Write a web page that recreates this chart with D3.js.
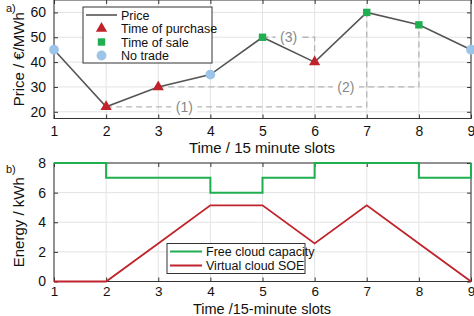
<!DOCTYPE html>
<html>
<head>
<meta charset="utf-8">
<script src="https://cdn.jsdelivr.net/npm/d3@7"></script>
<style>
  body { margin: 0; background: #fff; }
  svg { display: block; font-family: "Liberation Sans", Arial, sans-serif; }
</style>
</head>
<body>
<svg id="chart" width="474" height="316"></svg>
<script>
// Time slots shared by both panels
const slots = [1, 2, 3, 4, 5, 6, 7, 8, 9];
// Panel a) price per slot and marker type
const price = [45, 22, 30, 35, 50, 40, 60, 55, 45];
const trade = ['none', 'buy', 'buy', 'none', 'sell', 'buy', 'sell', 'sell', 'none'];
const priceTicks = [20, 30, 40, 50, 60];
// Buy/sell pairs: [buy slot, sell slot, label slot position]
const pairs = [
    { buy: 2, sell: 7, label: '(1)', at: 3.5 },
    { buy: 3, sell: 8, label: '(2)', at: 6.6 },
    { buy: 6, sell: 5, label: '(3)', at: 5.5 },
];
// Panel b) energies per slot
const freeCapacity = [8, 7, 7, 6, 7, 8, 8, 7, 8];
const virtualSoe = [0, 0, 2.57, 5.14, 5.14, 2.57, 5.14, 2.57, 0];
const energyTicks = [0, 2, 4, 6, 8];

const svg = d3.select('#chart');
const left = 54, right = 471;
const green = '#1fae50', red = '#c0232b', blue = '#9cc3e8', grey = '#555';

const x = d3.scaleLinear().domain([1, 9]).range([left, right]);
const yA = d3.scaleLinear().domain([17.3, 65]).range([118.5, 0]);
const yB = d3.scaleLinear().domain([0, 8]).range([281.5, 163]);

// Draw frame, grid, ticks and labels for one panel.
const drawFrame = (y, ticks, top, bottom, opt) => {
    const g = svg.append('g');
    // grid
    g.selectAll('.gx').data(slots).enter().append('line')
        .attr('x1', (d) => x(d)).attr('x2', (d) => x(d))
        .attr('y1', top).attr('y2', bottom)
        .attr('stroke', '#e3e3e3').attr('stroke-width', 1);
    g.selectAll('.gy').data(ticks).enter().append('line')
        .attr('x1', left).attr('x2', right)
        .attr('y1', (d) => y(d)).attr('y2', (d) => y(d))
        .attr('stroke', '#e3e3e3').attr('stroke-width', 1);

    // axes with inward ticks on all four sides
    const axes = svg.append('g').attr('class', 'axes');
    const xb = axes.append('g').attr('transform', `translate(0,${bottom})`)
        .call(d3.axisBottom(x).tickValues(slots).tickSizeInner(-4).tickSizeOuter(0).tickPadding(opt.pad));
    axes.append('g').attr('transform', `translate(0,${top})`)
        .call(d3.axisTop(x).tickValues(slots).tickSizeInner(-4).tickSizeOuter(0).tickFormat(''));
    axes.append('g').attr('transform', `translate(${left},0)`)
        .call(d3.axisLeft(y).tickValues(ticks).tickSizeInner(-4).tickSizeOuter(0).tickPadding(8));
    axes.append('g').attr('transform', `translate(${right},0)`)
        .call(d3.axisRight(y).tickValues(ticks).tickSizeInner(-4).tickSizeOuter(0).tickFormat(''));
    axes.selectAll('.domain').remove();
    axes.selectAll('.tick line').attr('stroke', '#333');
    axes.selectAll('.tick text').attr('font-size', '14px').attr('fill', '#111')
        .attr('font-family', '"Liberation Sans", Arial, sans-serif');
    xb.selectAll('.tick text').attr('font-size', opt.tickSize);

    svg.append('rect').attr('x', left).attr('y', top)
        .attr('width', right - left).attr('height', bottom - top)
        .attr('fill', 'none').attr('stroke', '#333').attr('stroke-width', 1);

    svg.append('text').attr('x', 262).attr('y', opt.titleY)
        .attr('text-anchor', 'middle').attr('font-size', opt.titleSize).attr('fill', '#111').text(opt.xTitle);
    svg.append('text')
        .attr('transform', `translate(24,${(top + bottom) / 2}) rotate(-90)`)
        .attr('text-anchor', 'middle').attr('font-size', '15px').attr('fill', '#111').text(opt.yTitle);
    svg.append('text').attr('x', 6).attr('y', opt.tagY)
        .attr('font-size', '11px').attr('fill', '#111').text(opt.tag);
};

drawFrame(yA, priceTicks, 0, 118.5, {
    xTitle: 'Time / 15 minute slots', titleY: 152.5, titleSize: '15px', pad: 8, tickSize: '14px',
    yTitle: 'Price / €/MWh', tag: 'a)', tagY: 12,
});
drawFrame(yB, energyTicks, 163, 281.5, {
    xTitle: 'Time /15-minute slots', titleY: 313.5, titleSize: '14.5px', pad: 5, tickSize: '13.5px',
    yTitle: 'Energy / kWh', tag: 'b)', tagY: 173,
});

// ---- Panel a) ----
const pa = svg.append('g');
const priceAt = (s) => price[slots.indexOf(s)];

// dashed trade connections
pairs.forEach((p) => {
    const yb = yA(priceAt(p.buy)), ys = yA(priceAt(p.sell));
    let d = `M${x(p.buy)},${yb}H${x(p.sell)}V${ys}`;
    let lineY = yb;
    if (p.buy > p.sell) {
        // horizontal at sell level, vertical at buy slot
        d = `M${x(p.sell)},${ys}H${x(p.buy)}V${yb}`;
        lineY = ys;
    }
    pa.append('path').attr('d', d).attr('fill', 'none')
        .attr('stroke', '#b5b5b5').attr('stroke-width', 1.3).attr('stroke-dasharray', '6,4');
    pa.append('rect').attr('x', x(p.at) - 13).attr('y', lineY - 8).attr('width', 26).attr('height', 16)
        .attr('fill', '#fff');
    pa.append('text').attr('x', x(p.at)).attr('y', lineY + 5).attr('text-anchor', 'middle')
        .attr('font-size', '14px').attr('fill', '#888').text(p.label);
});

const priceLine = d3.line().x((d, i) => x(slots[i])).y((d) => yA(d));
pa.append('path').datum(price).attr('d', priceLine)
    .attr('fill', 'none').attr('stroke', grey).attr('stroke-width', 1.6);

const sym = { none: d3.symbolCircle, buy: d3.symbolTriangle, sell: d3.symbolSquare };
const symSize = { none: 75, buy: 55, sell: 55 };
const symCol = { none: blue, buy: red, sell: green };
pa.selectAll('.m').data(price).enter().append('path')
    .attr('transform', (d, i) => `translate(${x(slots[i])},${yA(d)})`)
    .attr('d', (d, i) => d3.symbol().type(sym[trade[i]]).size(symSize[trade[i]])())
    .attr('fill', (d, i) => symCol[trade[i]]);

// legend a)
const la = svg.append('g').attr('transform', 'translate(83,7)');
la.append('rect').attr('width', 129).attr('height', 56).attr('fill', '#fff')
    .attr('stroke', '#333').attr('stroke-width', 1);
const legA = [
    { t: 'Price', k: 'line' },
    { t: 'Time of purchase', k: 'buy' },
    { t: 'Time of sale', k: 'sell' },
    { t: 'No trade', k: 'none' },
];
legA.forEach((e, i) => {
    const yy = 8 + i * 13.5;
    if (e.k === 'line') {
        la.append('line').attr('x1', 3).attr('x2', 34).attr('y1', yy).attr('y2', yy)
            .attr('stroke', grey).attr('stroke-width', 1.6);
    } else {
        la.append('path').attr('transform', `translate(18.5,${yy})`)
            .attr('d', d3.symbol().type(sym[e.k]).size(symSize[e.k])())
            .attr('fill', symCol[e.k]);
    }
    la.append('text').attr('x', 38).attr('y', yy + 4.5).attr('font-size', '12.5px')
        .attr('fill', '#111').text(e.t);
});

// ---- Panel b) ----
const pb = svg.append('g');
const capLine = d3.line().x((d, i) => x(slots[i])).y((d) => yB(d)).curve(d3.curveStepAfter);
pb.append('path').datum(freeCapacity).attr('d', capLine)
    .attr('fill', 'none').attr('stroke', green).attr('stroke-width', 2);
const soeLine = d3.line().x((d, i) => x(slots[i])).y((d) => yB(d));
pb.append('path').datum(virtualSoe).attr('d', soeLine)
    .attr('fill', 'none').attr('stroke', red).attr('stroke-width', 1.8);

// legend b)
const lb = svg.append('g').attr('transform', 'translate(167,243.5)');
lb.append('rect').attr('width', 138).attr('height', 30).attr('fill', '#fff')
    .attr('stroke', '#333').attr('stroke-width', 1);
[{ t: 'Free cloud capacity', c: green }, { t: 'Virtual cloud SOE', c: red }].forEach((e, i) => {
    const yy = 8 + i * 14;
    lb.append('line').attr('x1', 3).attr('x2', 35).attr('y1', yy).attr('y2', yy)
        .attr('stroke', e.c).attr('stroke-width', 2);
    lb.append('text').attr('x', 39).attr('y', yy + 4.5).attr('font-size', '12.5px')
        .attr('fill', '#111').text(e.t);
});
</script>
</body>
</html>
